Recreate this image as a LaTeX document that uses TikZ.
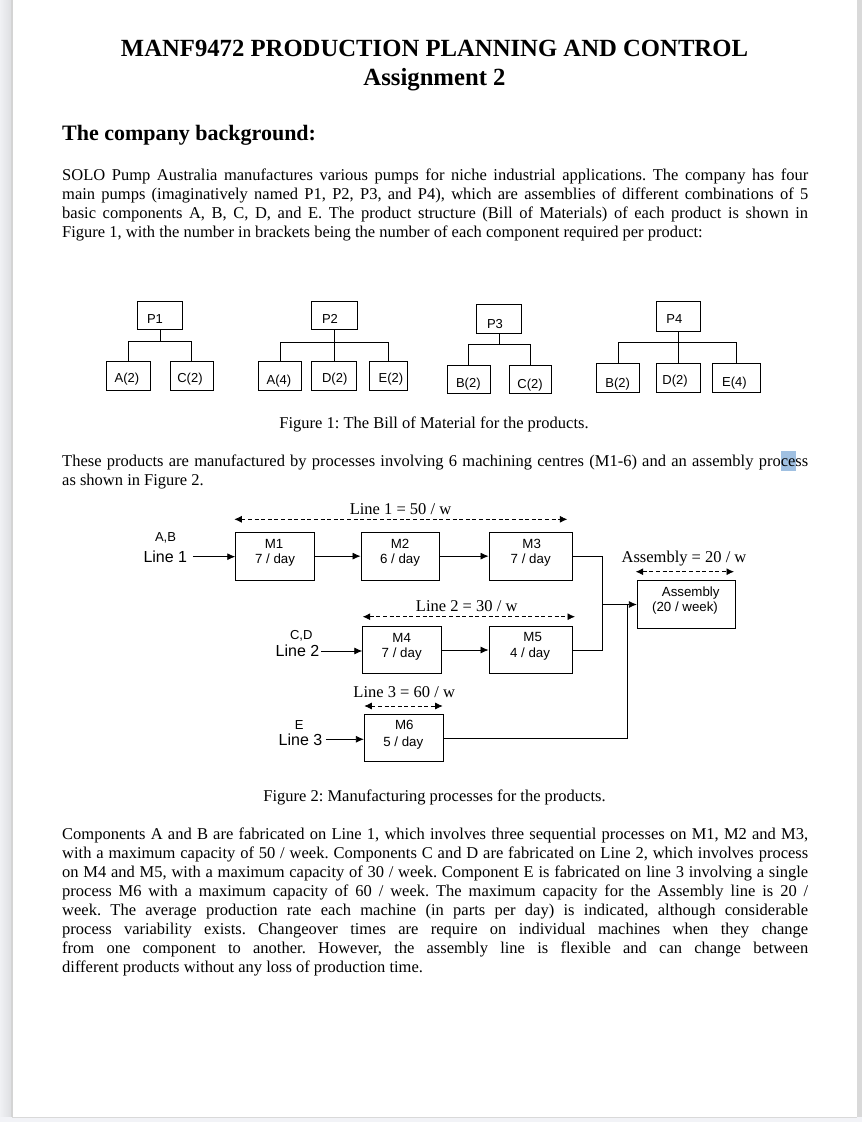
\documentclass[tikz,border=0pt]{standalone}
\usepackage{fontspec}
\setmainfont{Liberation Serif}[Ligatures=NoCommon]
\newfontfamily\arialf{Liberation Sans}
\usetikzlibrary{arrows.meta}
\newcommand\bodyfont{\fontsize{16.5}{19}\selectfont\frenchspacing}
\newcommand\jline[1]{\makebox[746pt][s]{#1}}
\definecolor{edgeA}{RGB}{240,241,244}
\definecolor{edgeB}{RGB}{222,223,226}
\definecolor{edgeR}{RGB}{217,217,217}
\definecolor{bandc}{RGB}{242,243,247}
\definecolor{hilite}{RGB}{160,192,225}
\tikzset{
  bbox/.style={draw, line width=0.9pt, inner sep=0},
  conn/.style={line width=0.8pt},
  arr/.style={line width=0.8pt, -{Latex[length=8pt,width=7pt]}},
  dimarr/.style={line width=0.8pt, dash pattern=on 4pt off 2.6pt, {Latex[length=7.5pt,width=7pt]}-{Latex[length=7.5pt,width=7pt]}},
  art/.style={font=\arialf\fontsize{13}{15}\selectfont, anchor=base, inner sep=0},
  arm/.style={font=\arialf\fontsize{13.3}{15}\selectfont, anchor=base, inner sep=0},
  arl/.style={font=\arialf\fontsize{16}{18}\selectfont, anchor=base, inner sep=0},
  tml/.style={font=\bodyfont, anchor=base, inner sep=0},
  para/.style={anchor=base west, inner sep=0, font=\bodyfont},
}
\frenchspacing
\begin{document}
\begin{tikzpicture}[x=1pt,y=-1pt]
\useasboundingbox (0,0) rectangle (862,1122);
\fill[white] (0,0) rectangle (862,1122);
% page surround
\shade[left color=edgeA, right color=edgeB] (0,0) rectangle (11,1122);
\fill[black!17] (11,0) rectangle (12.5,1117);
\fill[edgeR] (857,0) rectangle (862,1122);
\fill[bandc] (0,1117) rectangle (862,1122);
\draw[black!15, line width=0.6pt] (12,1117) -- (857,1117);

% title and heading
\node[anchor=base, inner sep=0, font=\bfseries\fontsize{24.7}{28}\selectfont] (title1) at (434.5,56) {MANF9472 PRODUCTION PLANNING AND CONTROL};
\node[anchor=base, inner sep=0, font=\bfseries\fontsize{24.7}{28}\selectfont] (title2) at (434.5,85) {Assignment 2};
\node[anchor=base west, inner sep=0, font=\bfseries\fontsize{22}{25}\selectfont] (head) at (62,140) {The company background:};

% paragraph 1
\node[para] (para1) at (62,180.5) {\parbox[t]{746pt}{\bodyfont
\jline{SOLO Pump Australia manufactures various pumps for niche industrial applications. The company has four}\\
\jline{main pumps (imaginatively named P1, P2, P3, and P4), which are assemblies of different combinations of 5}\\
\jline{basic components A, B, C, D, and E. The product structure (Bill of Materials) of each product is shown in}\\
Figure 1, with the number in brackets being the number of each component required per product:}};

% ---------- Figure 1 ----------
\node[bbox, minimum width=44.6, minimum height=27.6] (P1) at (160,315.5) {};
\node[bbox, minimum width=44, minimum height=28.3] (A2a) at (128.7,375.85) {};
\node[bbox, minimum width=43.3, minimum height=28.3] (C2a) at (191.65,375.85) {};
\node[bbox, minimum width=45.6, minimum height=28.3] (P2) at (334.5,315.15) {};
\node[bbox, minimum width=43.4, minimum height=28.3] (A4) at (280,375.85) {};
\node[bbox, minimum width=45, minimum height=28.3] (D2a) at (334.2,375.85) {};
\node[bbox, minimum width=38, minimum height=28.3] (E2) at (388,375.85) {};
\node[bbox, minimum width=45, minimum height=29] (P3) at (499.2,318.8) {};
\node[bbox, minimum width=42.7, minimum height=28.3] (B2a) at (468.65,379.15) {};
\node[bbox, minimum width=42.7, minimum height=28.3] (C2b) at (530.35,379.15) {};
\node[bbox, minimum width=44, minimum height=30.7] (P4) at (678.7,316.35) {};
\node[bbox, minimum width=42.6, minimum height=29] (B2b) at (618,377.8) {};
\node[bbox, minimum width=44, minimum height=29] (D2b) at (678,377.8) {};
\node[bbox, minimum width=48, minimum height=29] (E4) at (736,377.8) {};

\node[art] (tP1) at (155,323.6) {P1};
\node[art] (tA2a) at (127,382.3) {A(2)};
\node[art] (tC2a) at (190,382.3) {C(2)};
\node[art] (tP2) at (330,323.6) {P2};
\node[art] (tA4) at (279,384) {A(4)};
\node[art] (tD2a) at (334.7,382.3) {D(2)};
\node[art] (tE2) at (391,382.3) {E(2)};
\node[art] (tP3) at (495,328) {P3};
\node[art] (tB2a) at (468.3,387) {B(2)};
\node[art] (tC2b) at (530,388) {C(2)};
\node[art] (tP4) at (674.3,323) {P4};
\node[art] (tB2b) at (617.7,387) {B(2)};
\node[art] (tD2b) at (675,384.7) {D(2)};
\node[art] (tE4) at (734.5,386) {E(4)};

\coordinate (bar1) at (0,341.7);
\coordinate (bar2) at (0,342);
\coordinate (bar3) at (0,344.3);
\coordinate (bar4) at (0,342.3);
\draw[conn] (P1.south) -- (P1.south |- bar1);
\draw[conn] (A2a.north) |- (C2a.north |- bar1) -- (C2a.north);
\draw[conn] (P2.south) -- (P2.south |- D2a.north);
\draw[conn] (A4.north) |- (E2.north |- bar2) -- (E2.north);
\draw[conn] (P3.south) -- (P3.south |- bar3);
\draw[conn] (B2a.north) |- (C2b.north |- bar3) -- (C2b.north);
\draw[conn] (P4.south) -- (P4.south |- D2b.north);
\draw[conn] (B2b.north) |- (E4.north |- bar4) -- (E4.north);

\node[tml] (cap1) at (434,428.5) {Figure 1: The Bill of Material for the products.};

% paragraph 2
\fill[hilite] (781,450.5) rectangle (796,470.5);
\node[para] (para2) at (62,466.5) {\parbox[t]{746pt}{\bodyfont
\jline{These products are manufactured by processes involving 6 machining centres (M1-6) and an assembly process}\\
as shown in Figure 2.}};

% ---------- Figure 2 ----------
\node[bbox, minimum width=78.6, minimum height=47.7] (M1) at (275,556.15) {};
\node[bbox, minimum width=78.3, minimum height=47.7] (M2) at (400.15,556.15) {};
\node[bbox, minimum width=83.7, minimum height=48] (M3) at (530.85,556.7) {};
\node[bbox, minimum width=79, minimum height=46.6] (M4) at (402.2,650) {};
\node[bbox, minimum width=83.7, minimum height=46.6] (M5) at (530.85,650) {};
\node[bbox, minimum width=79, minimum height=47.4] (M6) at (403.8,738) {};
\node[bbox, minimum width=98.4, minimum height=47.6] (Asm) at (686.5,604.5) {};

\node[arm] at (274,548.1) {M1};
\node[arm] at (275,563.1) {7 / day};
\node[arm] at (400,548.1) {M2};
\node[arm] at (400,563.1) {6 / day};
\node[arm] at (531.7,548.1) {M3};
\node[arm] at (530.7,563.8) {7 / day};
\node[arm] at (401.7,642.1) {M4};
\node[arm] at (401.7,657.5) {7 / day};
\node[arm] at (532.7,641.5) {M5};
\node[arm] at (530,657.5) {4 / day};
\node[arm] at (404.3,729.8) {M6};
\node[arm] at (403.3,746.5) {5 / day};
\node[arm] at (690.7,596.5) {Assembly};
\node[arm] at (685,611.5) {(20 / week)};

\node[art] (cAB) at (165.5,541.3) {A,B};
\node[art] (cCD) at (301.3,639.6) {C,D};
\node[art] (cE) at (299.3,729.6) {E};
\node[arl] (L1) at (165.3,562.4) {Line 1};
\node[arl] (L2) at (297.5,656.7) {Line 2};
\node[arl] (L3) at (300.5,745) {Line 3};

\node[tml] (cap11) at (400.5,514.5) {Line 1 = 50 / w};
\node[tml] (cap12) at (466.7,611.5) {Line 2 = 30 / w};
\node[tml] (cap13) at (404.2,697) {Line 3 = 60 / w};
\node[tml] (capA) at (684,562.5) {Assembly = 20 / w};

\coordinate (d1l) at (234.3,519.3);
\coordinate (d1r) at (567.3,519.3);
\coordinate (d2l) at (362.7,616.7);
\coordinate (d2r) at (575,616.7);
\coordinate (d3l) at (364.3,706);
\coordinate (d3r) at (442.7,706);
\coordinate (dal) at (635.7,571.7);
\coordinate (dar) at (734,571.7);
\draw[dimarr] (d1l) -- (d1r);
\draw[dimarr] (d2l) -- (d2r);
\draw[dimarr] (d3l) -- (d3r);
\draw[dimarr] (dal) -- (dar);

\draw[arr, shorten <=5.6pt] (L1.east) -- (L1.east -| M1.west);
\draw[arr] (M1.east) -- (M2.west);
\draw[arr] (M2.east) -- (M2.east -| M3.west);
\draw[arr, shorten <=1.7pt] (L2.east) -- (L2.east -| M4.west);
\draw[arr] (M4.east) -- (M5.west);
\draw[arr, shorten <=3.3pt] (L3.east) -- (L3.east -| M6.west);

\coordinate (j1) at (602.7,604.5);
\coordinate (j2) at (627.3,604.5);
\draw[conn] (M3.east) -| (j1);
\draw[conn] (M5.east) -| (j1);
\draw[conn] (M6.east) -| (j2);
\draw[arr] (j1) -- (Asm.west);

\node[tml] (cap2) at (434.5,801.5) {Figure 2: Manufacturing processes for the products.};

% paragraph 3
\node[para] (para3) at (62,839.5) {\parbox[t]{746pt}{\bodyfont
\jline{Components A and B are fabricated on Line 1, which involves three sequential processes on M1, M2 and M3,}\\
\jline{with a maximum capacity of 50 / week. Components C and D are fabricated on Line 2, which involves process}\\
\jline{on M4 and M5, with a maximum capacity of 30 / week. Component E is fabricated on line 3 involving a single}\\
\jline{process M6 with a maximum capacity of 60 / week. The maximum capacity for the Assembly line is 20 /}\\
\jline{week. The average production rate each machine (in parts per day) is indicated, although considerable}\\
\jline{process variability exists. Changeover times are require on individual machines when they change}\\
\jline{from one component to another. However, the assembly line is flexible and can change between}\\
different products without any loss of production time.}};
\end{tikzpicture}
\end{document}
